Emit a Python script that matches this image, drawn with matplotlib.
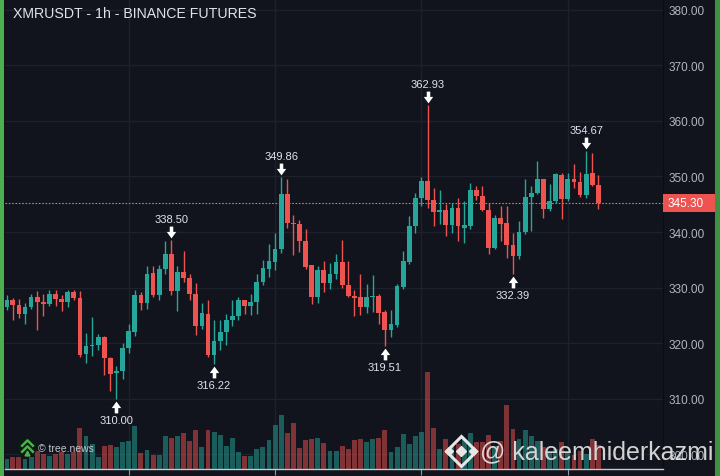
import matplotlib
matplotlib.use('Agg')
import matplotlib.pyplot as plt
import matplotlib.transforms as mtransforms
from matplotlib.path import Path
from matplotlib.patches import Rectangle, Circle
import numpy as np

plt.rcParams['font.family'] = ['Liberation Sans', 'DejaVu Sans']

title = 'XMRUSDT - 1h - BINANCE FUTURES'

# hourly candles
opens = [326.5, 327.8, 326.9, 325.2, 326.5, 328.3, 327.4, 327.0, 328.9, 327.9,
         327.4, 329.2, 328.1, 318.1, 319.4, 319.6, 321.1, 317.3, 314.6, 314.9,
         319.1, 322.0, 328.6, 327.2, 332.6, 328.6, 333.4, 336.0, 329.4, 332.8,
         331.8, 328.9, 323.0, 325.3, 317.8, 320.4, 321.9, 324.1, 324.8, 327.7,
         326.7, 327.4, 331.0, 333.4, 334.6, 337.0, 346.9, 341.7, 341.5, 338.3,
         334.0, 328.2, 333.1, 330.8, 332.5, 334.6, 330.4, 328.4, 328.3, 326.5,
         328.2, 328.4, 325.6, 322.4, 323.2, 330.1, 334.6, 341.0, 346.1, 349.2,
         345.7, 343.6, 343.9, 341.2, 344.4, 340.8, 341.1, 347.5, 346.5, 344.0,
         337.2, 342.5, 341.6, 337.6, 335.6, 340.0, 346.3, 347.1, 349.5, 344.2,
         345.6, 350.2, 346.0, 349.6, 349.0, 346.6, 350.6, 348.4]
highs = [328.6, 328.1, 328.0, 327.2, 328.9, 329.3, 328.9, 329.5, 329.5, 328.6,
         329.5, 329.5, 329.3, 321.8, 324.7, 321.7, 321.3, 317.5, 315.8, 320.0,
         323.5, 329.5, 329.2, 333.9, 333.9, 334.0, 338.3, 338.50, 333.9, 336.6,
         332.5, 330.8, 327.2, 327.7, 324.1, 324.1, 325.3, 327.8, 328.2, 327.7,
         328.9, 332.5, 334.9, 337.8, 339.9, 349.86, 349.5, 343.1, 342.2, 340.5,
         334.0, 333.9, 334.8, 334.5, 336.1, 338.6, 334.8, 329.6, 332.5, 330.7,
         332.2, 328.9, 326.0, 325.9, 330.7, 336.6, 342.9, 347.0, 349.9, 362.93,
         348.0, 347.5, 345.0, 345.3, 346.2, 345.6, 348.9, 348.3, 348.2, 345.3,
         343.0, 344.7, 344.7, 339.9, 342.0, 349.6, 348.3, 352.8, 349.6, 348.6,
         350.7, 350.7, 350.7, 352.3, 350.8, 354.67, 354.2, 350.2]
lows = [325.9, 324.1, 324.5, 323.5, 326.1, 322.4, 324.9, 326.7, 326.7, 325.7,
        326.5, 327.8, 317.5, 316.4, 317.6, 318.7, 314.3, 311.3, 310.00, 313.5,
        318.2, 321.2, 326.0, 326.2, 328.2, 327.8, 332.5, 328.6, 325.8, 331.0,
        327.7, 321.4, 322.6, 317.5, 316.22, 318.7, 319.6, 323.0, 324.2, 325.2,
        325.0, 325.3, 330.4, 331.9, 333.1, 336.3, 340.7, 335.8, 336.4, 333.4,
        327.0, 327.2, 329.2, 329.8, 331.6, 330.0, 328.2, 324.8, 325.0, 325.4,
        325.5, 323.4, 319.51, 321.1, 322.9, 329.8, 334.3, 339.9, 344.6, 344.4,
        341.0, 341.4, 339.3, 339.9, 338.4, 338.1, 340.5, 345.8, 343.8, 336.0,
        336.9, 338.4, 335.4, 332.39, 335.1, 339.6, 340.2, 346.8, 342.6, 343.8,
        345.3, 342.4, 345.6, 348.0, 346.3, 346.2, 348.3, 344.2]
closes = [327.8, 326.9, 325.2, 326.5, 328.3, 327.4, 327.0, 328.9, 327.9, 327.4,
          329.2, 328.1, 317.8, 319.5, 319.6, 321.1, 317.3, 314.4, 314.9, 319.1,
          322.1, 328.6, 327.2, 332.5, 328.6, 333.4, 336.0, 329.4, 332.8, 331.8,
          328.9, 323.0, 325.4, 317.8, 320.4, 322.0, 324.1, 324.8, 327.8, 326.7,
          327.4, 331.0, 333.6, 334.8, 337.0, 346.9, 341.6, 341.5, 338.3, 333.7,
          328.2, 333.2, 330.8, 332.5, 334.6, 330.4, 328.4, 328.1, 326.5, 328.2,
          328.4, 325.4, 322.4, 323.4, 330.2, 334.8, 341.0, 346.2, 349.2, 345.7,
          343.6, 343.9, 341.2, 344.4, 341.0, 341.2, 347.5, 346.5, 344.0, 337.2,
          342.6, 341.4, 337.6, 335.6, 340.0, 346.3, 347.0, 349.5, 344.2, 345.6,
          350.4, 346.0, 349.6, 349.0, 346.6, 350.5, 348.4, 345.3]
volumes = [10, 11.7, 11.7, 10, 11.7, 18.3, 15, 13.3, 15, 16.7,
           15, 16.7, 40.7, 32.7, 25, 11.7, 22.7, 24.3, 21.7, 26.7,
           28.3, 42.7, 16, 19.3, 14, 14, 32.7, 30.7, 33.3, 36,
           28.3, 39.3, 21.7, 39.3, 37.3, 34, 23.3, 30.7, 16.7, 12.7,
           13.3, 20, 21.7, 29.3, 44, 54, 36, 46, 20.7, 29.3,
           30, 31, 26, 18.3, 18.3, 23.3, 20, 29.3, 30, 26.7,
           30, 31, 39.3, 17.3, 21.7, 35, 25, 33.3, 37.3, 97.3,
           40.7, 20, 30, 23.3, 25, 30, 36, 26.7, 27.3, 34,
           23.3, 28.3, 64, 40, 30, 39.3, 33.3, 28.3, 21.7, 16.7,
           20, 26.7, 16.7, 14, 18.3, 15, 30, 24]

last_price = 345.30
hi_idx = [27, 45, 69, 95]
lo_idx = [18, 34, 62, 83]
day_idx = [20, 44, 68, 92]
price_ticks = [300, 310, 320, 330, 340, 350, 360, 370, 380]

BG = '#11141c'
GRID = '#1d212b'
UP = '#26a69a'
DOWN = '#ef5350'
TXT = '#e0e3eb'

o = np.array(opens)
h = np.array(highs)
l = np.array(lows)
c = np.array(closes)
x = np.arange(len(o))
up = c >= o
col = np.where(up, UP, DOWN)

fig = plt.figure(figsize=(7.2, 4.77), dpi=100, facecolor=BG)
rect = [5 / 720, 7 / 477, 658 / 720, 470 / 477]
ax = fig.add_axes(rect, facecolor=BG)
ax.set_xlim(-0.28, 107.6)
ax.set_ylim(297.3, 381.98)

# grid
ax.set_yticks(price_ticks)
ax.set_xticks(day_idx)
ax.grid(True, color=GRID, lw=1, zorder=0)
ax.yaxis.tick_right()
ax.set_yticklabels(['{:.2f}'.format(p) for p in price_ticks])
ax.tick_params(axis='y', length=0, pad=4, labelsize=8.5, labelcolor='#b2b5be')
ax.tick_params(axis='x', length=4, color='#9598a1', labelbottom=False)
for s in ['top', 'left']:
    ax.spines[s].set_visible(False)
ax.spines['right'].set_color('#0a0c12')
ax.spines['bottom'].set_color('#c8cad0')
ax.spines['bottom'].set_linewidth(1)

# candles
ax.vlines(x, l, h, colors=col, lw=1, zorder=3)
body = np.maximum(np.abs(c - o), 0.2)
ax.bar(x, body, bottom=np.minimum(o, c), width=0.78, color=col, zorder=4)

# last price line + tag
ax.axhline(last_price, color='#f26c69', ls=(0, (1.5, 1.5)), lw=0.8, zorder=2)
btrans = mtransforms.blended_transform_factory(ax.transAxes, ax.transData)
ax.add_patch(Rectangle((1.0, last_price - 1.62), 52 / 658, 3.24, transform=btrans,
                       facecolor=DOWN, edgecolor='none', clip_on=False, zorder=6))
ax.text(1.0 + 5 / 658, last_price, '{:.2f}'.format(last_price), transform=btrans,
        color='white', fontsize=8.5, ha='left', va='center', zorder=7)

# high / low markers
down_arrow = Path([(-0.3, 1), (0.3, 1), (0.3, 0.1), (0.8, 0.1), (0, -1),
                   (-0.8, 0.1), (-0.3, 0.1), (-0.3, 1)])
up_arrow = Path([(vx, -vy) for vx, vy in down_arrow.vertices])
ar_hi = mtransforms.offset_copy(ax.transData, fig=fig, y=8, units='dots')
tx_hi = mtransforms.offset_copy(ax.transData, fig=fig, y=21, units='dots')
ar_lo = mtransforms.offset_copy(ax.transData, fig=fig, y=-8, units='dots')
tx_lo = mtransforms.offset_copy(ax.transData, fig=fig, y=-21, units='dots')
for i in hi_idx:
    ax.plot(i, h[i], marker=down_arrow, ms=8.5, color='white', mec='none',
            transform=ar_hi, zorder=6, clip_on=False)
    ax.text(i, h[i], '{:.2f}'.format(h[i]), transform=tx_hi, color=TXT,
            fontsize=8, ha='center', va='center', zorder=6)
for i in lo_idx:
    ax.plot(i, l[i], marker=up_arrow, ms=8.5, color='white', mec='none',
            transform=ar_lo, zorder=6, clip_on=False)
    ax.text(i, l[i], '{:.2f}'.format(l[i]), transform=tx_lo, color=TXT,
            fontsize=8, ha='center', va='center', zorder=6)

# volume overlay
axv = fig.add_axes(rect, facecolor='none', sharex=ax)
axv.set_ylim(0, 470)
axv.bar(x, volumes, width=0.8, color=col, alpha=0.5, zorder=1)
axv.axis('off')

fig.text(13 / 720, 1 - 14 / 477, title, color=TXT, fontsize=10.2,
         ha='left', va='center')

# watermarks
ov = fig.add_axes([0, 0, 1, 1], facecolor='none')
ov.set_xlim(0, 720)
ov.set_ylim(477, 0)
ov.axis('off')
ov.add_patch(Circle((27, 448), 10, facecolor='#0c1a12', edgecolor='none'))
chev = Path([(-1, -0.5), (0, 0.5), (1, -0.5)])
ov.plot([27, 27], [444, 450], ls='none', marker=chev, ms=9, mfc='none',
        mec='#4caf50', mew=1.8)
ov.plot(27, 454, marker='^', ms=3.5, color='#4caf50')
ov.text(38, 449, '\u00a9 tree.news', color='#c4c6cc', fontsize=7.5,
        ha='left', va='center')
ov.plot(461, 452, marker='D', ms=15, mfc='none', mec='#e6e6e6', mew=2.2)
ov.plot(461, 452, marker='D', ms=5, color='#e6e6e6')
ov.plot([449, 473], [452, 452], ls='none', marker='D', ms=4, color='#e6e6e6')
ov.text(480, 452, '@ kaleemhiderkazmi', color='#e8e8e8', alpha=0.9,
        fontsize=18, ha='left', va='center')

fig.patches.append(Rectangle((0, 0), 4 / 720, 1, transform=fig.transFigure,
                             facecolor='#4caf50', edgecolor='none'))
fig.patches.append(Rectangle((715 / 720, 0), 5 / 720, 1, transform=fig.transFigure,
                             facecolor='#3f9142', edgecolor='none'))

fig.savefig('out.png', dpi=100, facecolor=BG)
